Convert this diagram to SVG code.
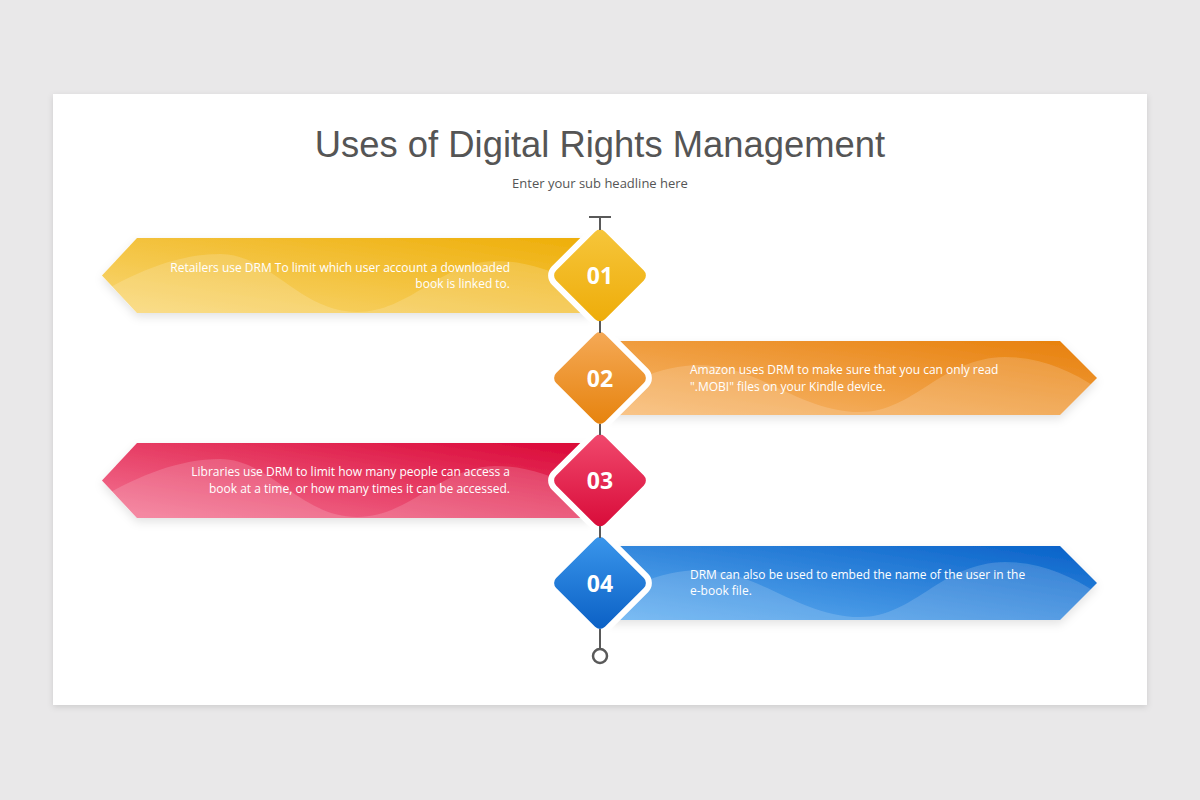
<svg xmlns="http://www.w3.org/2000/svg" width="1200" height="800" viewBox="0 0 1200 800">
<defs>
<filter id="cardShadow" x="-5%" y="-5%" width="110%" height="112%"><feDropShadow dx="0" dy="2" stdDeviation="3" flood-color="#000" flood-opacity="0.12"/></filter>
<filter id="soft" x="-10%" y="-30%" width="120%" height="160%"><feDropShadow dx="0" dy="4" stdDeviation="5" flood-color="#000" flood-opacity="0.11"/></filter>
<linearGradient id="gY" x1="0" y1="1" x2="1" y2="0"><stop offset="0" stop-color="#f9d877"/><stop offset="1" stop-color="#eeae08"/></linearGradient>
<linearGradient id="gO" x1="0" y1="1" x2="1" y2="0"><stop offset="0" stop-color="#f8ba72"/><stop offset="1" stop-color="#e77f0a"/></linearGradient>
<linearGradient id="gP" x1="0" y1="1" x2="1" y2="0"><stop offset="0" stop-color="#f47896"/><stop offset="1" stop-color="#da0636"/></linearGradient>
<linearGradient id="gB" x1="0" y1="1" x2="1" y2="0"><stop offset="0" stop-color="#62b0f2"/><stop offset="1" stop-color="#0660c8"/></linearGradient>
<linearGradient id="dY" x1="0" y1="0" x2="1" y2="1"><stop offset="0" stop-color="#f6c63c"/><stop offset="1" stop-color="#eeac08"/></linearGradient>
<linearGradient id="dO" x1="0" y1="0" x2="1" y2="1"><stop offset="0" stop-color="#f5aa58"/><stop offset="1" stop-color="#e6820c"/></linearGradient>
<linearGradient id="dP" x1="0" y1="0" x2="1" y2="1"><stop offset="0" stop-color="#f14a6e"/><stop offset="1" stop-color="#d80a38"/></linearGradient>
<linearGradient id="dB" x1="0" y1="0" x2="1" y2="1"><stop offset="0" stop-color="#3b97ec"/><stop offset="1" stop-color="#0a5fc4"/></linearGradient>
<clipPath id="cL1"><path d="M590,238 L137,238 L102,275.5 L137,313 L590,313 Z"/></clipPath>
<clipPath id="cR2"><path d="M610,341 L1060,341 L1097,378 L1060,415 L610,415 Z"/></clipPath>
<clipPath id="cL3"><path d="M590,443 L137,443 L102,480.5 L137,518 L590,518 Z"/></clipPath>
<clipPath id="cR4"><path d="M610,546 L1060,546 L1097,583 L1060,620 L610,620 Z"/></clipPath>
</defs>
<style>
.body{font-family:"Open Sans","Noto Sans",sans-serif;font-size:12px;fill:#ffffff;}
.num{font-family:"Open Sans","Noto Sans",sans-serif;font-size:23px;font-weight:700;fill:#ffffff;text-anchor:middle;}
.wave{fill:#ffffff;fill-opacity:0.16;}
.dia{stroke:#ffffff;stroke-width:12;paint-order:stroke;}
.line{stroke:#595959;stroke-width:2;fill:none;}
</style>
<rect x="0" y="0" width="1200" height="800" fill="#e9e8e9"/>
<rect x="53" y="94" width="1094" height="611" fill="#ffffff" filter="url(#cardShadow)"/>
<text x="600" y="157" text-anchor="middle" font-family="Liberation Sans, Arial, sans-serif" font-size="36.4" fill="#555555">Uses of Digital Rights Management</text>
<text x="600" y="188" text-anchor="middle" font-family="Open Sans, Noto Sans, sans-serif" font-size="13" fill="#555555">Enter your sub headline here</text>

<g id="node1">
<path d="M590,238 L137,238 L102,275.5 L137,313 L590,313 Z" fill="url(#gY)" filter="url(#soft)"/>
<path class="wave" clip-path="url(#cL1)" d="M102,292 C140,270 180,254 220,254 C270,254 300,312 357,312 C410,312 440,262 495,261 C525,261 550,270 575,282 L590,313 L102,313 Z"/>
<text class="body" text-anchor="end"><tspan x="510" y="272">Retailers use DRM To limit which user account a downloaded</tspan><tspan x="510" y="288">book is linked to.</tspan></text>
<rect class="dia" x="-34.5" y="-34.5" width="69" height="69" rx="7" fill="url(#dY)" transform="translate(600,275.5) rotate(45)"/>
<text class="num" x="600" y="284">01</text>
</g>

<g id="node2">
<path d="M610,341 L1060,341 L1097,378 L1060,415 L610,415 Z" fill="url(#gO)" filter="url(#soft)"/>
<path class="wave" clip-path="url(#cR2)" d="M640,378 C660,370 680,365 700,365 C760,366 800,412 860,412 C915,412 940,358 1005,357 C1040,357 1070,370 1097,388 L1097,415 L610,415 Z"/>
<text class="body"><tspan x="690" y="374">Amazon uses DRM to make sure that you can only read</tspan><tspan x="690" y="391">".MOBI" files on your Kindle device.</tspan></text>
<rect class="dia" x="-34.5" y="-34.5" width="69" height="69" rx="7" fill="url(#dO)" transform="translate(600,378) rotate(45)"/>
<text class="num" x="600" y="386.5">02</text>
</g>

<g id="node3">
<path d="M590,443 L137,443 L102,480.5 L137,518 L590,518 Z" fill="url(#gP)" filter="url(#soft)"/>
<path class="wave" clip-path="url(#cL3)" d="M102,497 C140,475 180,459 220,459 C270,459 300,517 357,517 C410,517 440,467 495,466 C525,466 550,475 575,487 L590,518 L102,518 Z"/>
<text class="body" text-anchor="end"><tspan x="510" y="476">Libraries use DRM to limit how many people can access a</tspan><tspan x="510" y="493">book at a time, or how many times it can be accessed.</tspan></text>
<rect class="dia" x="-34.5" y="-34.5" width="69" height="69" rx="7" fill="url(#dP)" transform="translate(600,480.5) rotate(45)"/>
<text class="num" x="600" y="489">03</text>
</g>

<g id="node4">
<path d="M610,546 L1060,546 L1097,583 L1060,620 L610,620 Z" fill="url(#gB)" filter="url(#soft)"/>
<path class="wave" clip-path="url(#cR4)" d="M640,583 C660,575 680,570 700,570 C760,571 800,617 860,617 C915,617 940,563 1005,562 C1040,562 1070,575 1097,593 L1097,620 L610,620 Z"/>
<text class="body"><tspan x="690" y="579">DRM can also be used to embed the name of the user in the</tspan><tspan x="690" y="595">e-book file.</tspan></text>
<rect class="dia" x="-34.5" y="-34.5" width="69" height="69" rx="7" fill="url(#dB)" transform="translate(600,583) rotate(45)"/>
<text class="num" x="600" y="591.5">04</text>
</g>

<g id="connectors">
<line class="line" x1="589" y1="217" x2="611" y2="217"/>
<line class="line" x1="600" y1="217" x2="600" y2="230"/>
<line class="line" x1="600" y1="321" x2="600" y2="333"/>
<line class="line" x1="600" y1="424" x2="600" y2="435"/>
<line class="line" x1="600" y1="526" x2="600" y2="538"/>
<line class="line" x1="600" y1="629" x2="600" y2="649"/>
<circle cx="600" cy="656" r="7" fill="#ffffff" stroke="#595959" stroke-width="2.5"/>
</g>
</svg>
